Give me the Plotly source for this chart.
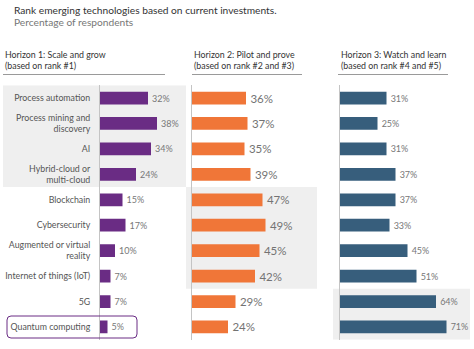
import plotly.graph_objects as go

W, H = 474, 349

technologies = [
    "Process automation",
    "Process mining and<br>discovery",
    "AI",
    "Hybrid-cloud or<br>multi-cloud",
    "Blockchain",
    "Cybersecurity",
    "Augmented or virtual<br>reality",
    "Internet of things (IoT)",
    "5G",
    "Quantum computing",
]
horizon1 = [32, 38, 34, 24, 15, 17, 10, 7, 7, 5]
horizon2 = [36, 37, 35, 39, 47, 49, 45, 42, 29, 24]
horizon3 = [31, 25, 31, 37, 37, 33, 45, 51, 64, 71]

headers = [
    "Horizon 1: Scale and grow<br>(based on rank #1)",
    "Horizon 2: Pilot and prove<br>(based on rank #2 and #3)",
    "Horizon 3: Watch and learn<br>(based on rank #4 and #5)",
]
colors = ["#6a2c84", "#f07638", "#375e7c"]

FONT = "Lato"
PX_PER_PCT = 1.5

def px(x):
    return x / W

def py(y):
    return 1 - y / H

# panel geometry in pixels: (axis start, panel end)
panels = [(100, 186), (192, 317), (340, 468)]
row_top, row_bot = 85.3, 339.7

fig = go.Figure()

series = [horizon1, horizon2, horizon3]
label_fonts = [
    dict(family=FONT, size=9, color="#777777"),
    dict(family=FONT, size=11.5, color="#737373"),
    dict(family=FONT, size=9, color="#777777"),
]
for i, vals in enumerate(series):
    sfx = "" if i == 0 else str(i + 1)
    fig.add_trace(go.Bar(
        x=vals, y=technologies, orientation="h",
        marker=dict(color=colors[i], line=dict(width=0)),
        width=0.5,
        text=[f"\u2009{v}%" for v in vals], textposition="outside",
        constraintext="none",
        textfont=label_fonts[i],
        cliponaxis=False,
        xaxis="x" + sfx, yaxis="y" + sfx,
        hoverinfo="skip", showlegend=False,
    ))

layout = dict(
    width=W, height=H,
    margin=dict(l=0, r=0, t=0, b=0),
    paper_bgcolor="white", plot_bgcolor="rgba(0,0,0,0)",
    font=dict(family=FONT, color="#444"),
    bargap=0.5,
)
for i, (x0, x1) in enumerate(panels):
    sfx = "" if i == 0 else str(i + 1)
    layout["xaxis" + sfx] = dict(
        domain=[px(x0), px(x1)],
        range=[0, (x1 - x0) / PX_PER_PCT],
        visible=False, fixedrange=True,
        anchor="y" + sfx,
    )
    layout["yaxis" + sfx] = dict(
        domain=[py(row_bot), py(row_top)],
        categoryorder="array", categoryarray=technologies,
        autorange="reversed",
        showline=True, linecolor="#c4c4c4", linewidth=1,
        showgrid=False, zeroline=False,
        showticklabels=(i == 0),
        ticklabelstandoff=7,
        tickfont=dict(family=FONT, size=8.8, color="#555"),
        anchor="x" + sfx, fixedrange=True,
    )
fig.update_layout(**layout)

# highlighted row bands behind each panel
shade = "#efefef"
bands = [
    (3, 186, -0.5, 3.5, "y"),
    (186, 317, 3.5, 7.5, "y"),
    (333, 470, 7.5, 9.5, "y"),
]
for x0, x1, r0, r1, yr in bands:
    fig.add_shape(type="rect", xref="paper", yref=yr,
                  x0=px(x0), x1=px(x1), y0=r0, y1=r1,
                  fillcolor=shade, line=dict(width=0), layer="below")

# header underlines
for x0, x1 in [(3, 165), (192, 302), (338, 448)]:
    fig.add_shape(type="line", xref="paper", yref="paper",
                  x0=px(x0), x1=px(x1), y0=py(74.5), y1=py(74.5),
                  line=dict(color="#9a9a9a", width=1))

# outline around the quantum computing row
fig.add_shape(type="path", xref="paper", yref="paper",
              path=(f"M {px(11)},{py(316)} L {px(133)},{py(316)} "
                    f"Q {px(137)},{py(316)} {px(137)},{py(320)} "
                    f"L {px(137)},{py(334)} Q {px(137)},{py(338)} {px(133)},{py(338)} "
                    f"L {px(11)},{py(338)} Q {px(7)},{py(338)} {px(7)},{py(334)} "
                    f"L {px(7)},{py(320)} Q {px(7)},{py(316)} {px(11)},{py(316)} Z"),
              line=dict(color="#6a2c84", width=1), fillcolor="rgba(0,0,0,0)")

# titles
fig.add_annotation(xref="paper", yref="paper", x=px(12), y=py(2),
                   xanchor="left", yanchor="top", showarrow=False,
                   text="Rank emerging technologies based on current investments.",
                   font=dict(family=FONT, size=10.2, color="#333"))
fig.add_annotation(xref="paper", yref="paper", x=px(12), y=py(14),
                   xanchor="left", yanchor="top", showarrow=False,
                   text="Percentage of respondents",
                   font=dict(family=FONT, size=10.2, color="#777"))

for hx, text in zip([3, 192, 339], headers):
    fig.add_annotation(xref="paper", yref="paper", x=px(hx), y=py(46.5),
                       xanchor="left", yanchor="top", showarrow=False, align="left",
                       text=text, font=dict(family=FONT, size=8.8, color="#333"))

fig.write_html("out.html")
